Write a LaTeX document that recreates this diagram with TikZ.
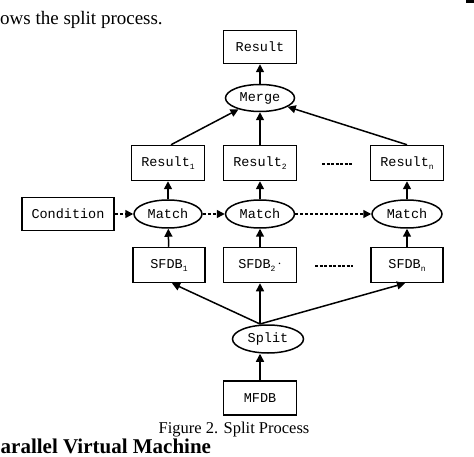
\documentclass[tikz,border=0pt]{standalone}
\usepackage{fontspec}
\setmainfont{Liberation Serif}
\newfontfamily\diafont{Liberation Mono}
\usetikzlibrary{arrows.meta,shapes.geometric}
\tikzset{
  box/.style={draw, line width=1.5pt, minimum width=73pt, minimum height=34pt, inner sep=0pt, font=\diafont\fontsize{13.5}{15}\selectfont},
  oval/.style={draw, ellipse, line width=1.5pt, minimum width=69pt, minimum height=28pt, inner sep=0pt, font=\diafont\fontsize{13.5}{15}\selectfont},
  arr/.style={line width=1.5pt, -{Triangle[length=8pt,width=8pt]}},
  darr/.style={line width=1.5pt, dash pattern=on 3pt off 2pt, -{Triangle[length=8pt,width=8pt]}},
  gap/.style={line width=1.5pt, dash pattern=on 3pt off 1.5pt},
  txt/.style={inner sep=0pt, anchor=base west}
}
\newcommand{\sbx}[1]{\raisebox{-3pt}{\fontsize{8}{9}\selectfont #1}}
\begin{document}
\begin{tikzpicture}[x=1pt,y=-1pt]
\useasboundingbox[fill=white] (0,0) rectangle (474,457);
% surrounding text
\node[txt, font=\fontsize{19}{21}\selectfont] (t1) at (0,25) {ows the split process.};
\node[inner sep=0pt, anchor=base, font=\fontsize{16.5}{18}\selectfont] (cap) at (234,433) {Figure 2. Split Process};
\node[txt, font=\bfseries\fontsize{21}{23}\selectfont] (t2) at (0.5,453) {arallel Virtual Machine};
\fill (466,0) rectangle (474,3);
% nodes
\node[box, minimum height=33pt] (res) at (260,47) {Result};
\node[oval, minimum height=27pt] (m) at (260,98) {Merge};
\node[box, minimum height=35pt] (r1) at (168,163) {Result\sbx{1}};
\node[box, minimum height=35pt] (r2) at (260,163) {Result\sbx{2}};
\node[box, minimum height=35pt] (rn) at (407,163) {Result\sbx{n}};
\node[box, minimum width=92pt, minimum height=33pt] (c) at (68,214) {Condition};
\node[oval, minimum width=68pt] (ma1) at (168,214) {Match};
\node[oval] (ma2) at (260,214) {Match};
\node[oval, minimum width=70pt] (ma3) at (407,214) {Match};
\node[box, minimum width=72pt, minimum height=35pt] (s1) at (169,265) {SFDB\sbx{1}};
\node[box, minimum height=35pt] (s2) at (260,265) {SFDB\sbx{2}\,\raisebox{1pt}{$\cdot$}};
\node[box, minimum width=72pt, minimum height=35pt] (sn) at (407,265) {SFDB\sbx{n}};
\node[oval, minimum width=71pt] (sp) at (268,339) {Split};
\node[box] (mf) at (260,398) {MFDB};
\coordinate (st) at (260,324);
\coordinate (g1a) at (322,164); \coordinate (g1b) at (353,164);
\coordinate (g2a) at (315,266); \coordinate (g2b) at (353,266);
% connectors
\draw[arr] (m) -- (res);
\draw[arr] ([xshift=3pt]r1.north) -- (m);
\draw[arr] (r2) -- (m);
\draw[arr] (rn.north) -- (m);
\draw[arr] (ma1) -- (r1);
\draw[arr] (ma2) -- (r2);
\draw[arr] (ma3) -- (rn);
\draw[arr] (s1) -- (ma1);
\draw[arr] (s2) -- (ma2);
\draw[arr] (sn) -- (ma3);
\draw[darr] (c) -- (ma1);
\draw[darr] (ma1) -- (ma2);
\draw[darr] (ma2) -- (ma3);
\draw[gap] (g1a) -- (g1b);
\draw[gap] (g2a) -- (g2b);
\draw[arr] (st) -- ([xshift=3pt]s1.south);
\draw[arr] (st) -- (s2.south);
\draw[arr] (st) -- ([xshift=-2pt]sn.south);
\draw[arr] (mf.north) -- (mf.north |- sp.south);
\end{tikzpicture}
\end{document}
